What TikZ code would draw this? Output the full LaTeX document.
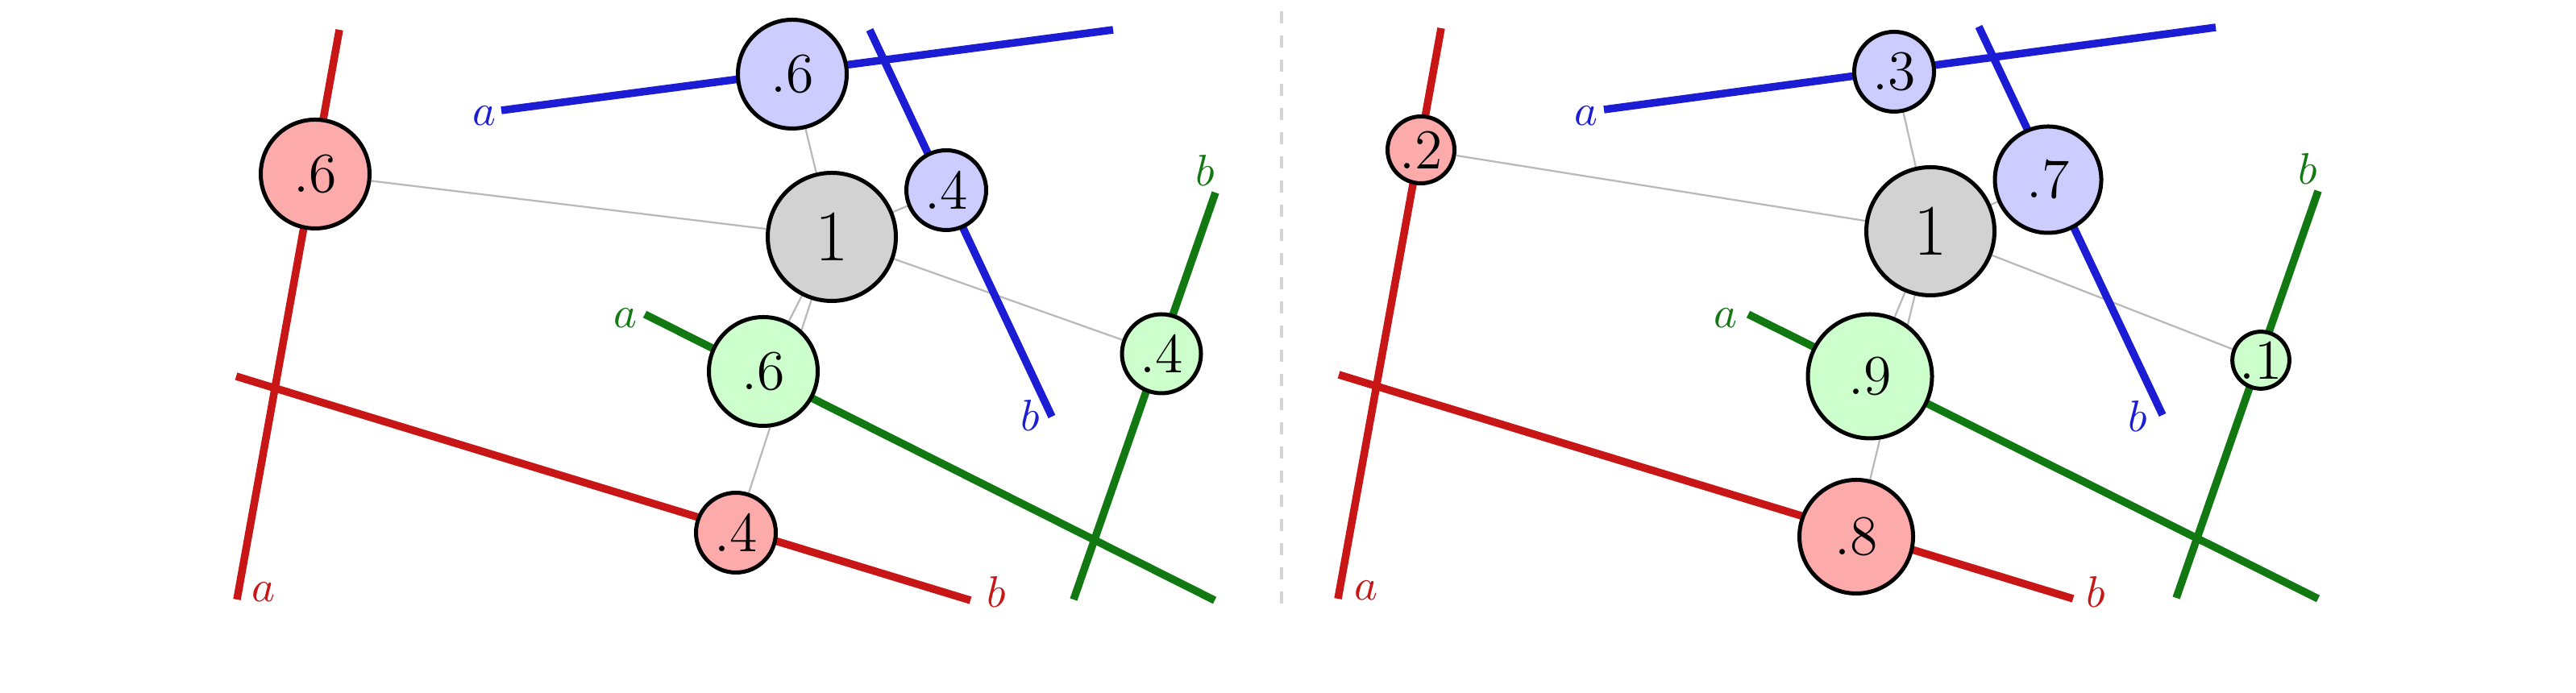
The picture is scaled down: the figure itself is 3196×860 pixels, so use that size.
\documentclass[tikz,border=0pt]{standalone}
\usepackage{amsmath}
\usepackage{amssymb}
\usetikzlibrary{backgrounds}

\definecolor{redline}{RGB}{200,22,22}
\definecolor{blueline}{RGB}{28,28,212}
\definecolor{greenline}{RGB}{18,120,18}
\definecolor{redfill}{RGB}{252,170,170}
\definecolor{bluefill}{RGB}{204,204,255}
\definecolor{greenfill}{RGB}{204,255,204}
\definecolor{onefill}{RGB}{210,210,210}
\definecolor{linkgray}{RGB}{185,185,185}
\definecolor{sepgray}{RGB}{212,212,212}

\begin{document}
\begin{tikzpicture}[x=0.2pt,y=-0.2pt,
  main node/.style={circle,draw,line width=1pt,inner sep=0pt,font=\fontsize{14}{16}\selectfont},
  one node/.style={main node,fill=onefill,minimum size=31.8pt,font=\fontsize{18}{21}\selectfont},
  red node/.style={main node,fill=redfill},
  blue node/.style={main node,fill=bluefill},
  green node/.style={main node,fill=greenfill},
  part line/.style={line width=1.9pt},
  tie/.style={draw=linkgray,line width=0.45pt},
  end label/.style={inner sep=0pt,font=\fontsize{10.5}{12}\selectfont}]
  \useasboundingbox (0,0) rectangle (3196,860);

  % left
  \coordinate (r1a) at (294,744);
  \coordinate (r1b) at (421,37);
  \coordinate (r2a) at (293,467);
  \coordinate (r2b) at (1204,745);
  \coordinate (b1a) at (622,137);
  \coordinate (b1b) at (1381,37);
  \coordinate (b2a) at (1079,37);
  \coordinate (b2b) at (1305,517);
  \coordinate (g1a) at (800,390);
  \coordinate (g1b) at (1507,745);
  \coordinate (g2a) at (1332,744);
  \coordinate (g2b) at (1508,239);

  \node[one node] (n0) at (1032,294) {1};
  \node[red node,minimum size=27pt] (n1) at (391,216) {.6};
  \node[red node,minimum size=19.8pt] (n2) at (913,661) {.4};
  \node[blue node,minimum size=27pt] (n3) at (983,92) {.6};
  \node[blue node,minimum size=19.8pt] (n4) at (1174,236) {.4};
  \node[green node,minimum size=27pt] (n5) at (947,461) {.6};
  \node[green node,minimum size=19.6pt] (n6) at (1441,439) {.4};

  \node[end label,text=redline] (la1) at (327,735) {$a$};
  \node[end label,text=redline] (la2) at (1236,735) {$b$};
  \node[end label,text=blueline] (la3) at (601,144) {$a$};
  \node[end label,text=blueline] (la4) at (1278,516) {$b$};
  \node[end label,text=greenline] (la5) at (776,395) {$a$};
  \node[end label,text=greenline] (la6) at (1495,212) {$b$};

  % right
  \coordinate (s1a) at (1660,743);
  \coordinate (s1b) at (1788,35);
  \coordinate (s2a) at (1661,465);
  \coordinate (s2b) at (2572,743);
  \coordinate (c1a) at (1990,136);
  \coordinate (c1b) at (2749,34);
  \coordinate (c2a) at (2455,33);
  \coordinate (c2b) at (2683,515);
  \coordinate (h1a) at (2169,390);
  \coordinate (h1b) at (2876,743);
  \coordinate (h2a) at (2700,742);
  \coordinate (h2b) at (2876,237);

  \node[one node] (m0) at (2395,287) {1};
  \node[red node,minimum size=16.6pt] (m1) at (1763,186) {.2};
  \node[red node,minimum size=28.2pt] (m2) at (2303,666) {.8};
  \node[blue node,minimum size=19.8pt] (m3) at (2350,89) {.3};
  \node[blue node,minimum size=26.4pt] (m4) at (2541,223) {.7};
  \node[green node,minimum size=30.8pt] (m5) at (2320,467) {.9};
  \node[green node,minimum size=13.8pt] (m6) at (2805,447) {.1};

  \node[end label,text=redline] (ma1) at (1695,733) {$a$};
  \node[end label,text=redline] (ma2) at (2600,735) {$b$};
  \node[end label,text=blueline] (ma3) at (1968,144) {$a$};
  \node[end label,text=blueline] (ma4) at (2652,517) {$b$};
  \node[end label,text=greenline] (ma5) at (2141,395) {$a$};
  \node[end label,text=greenline] (ma6) at (2863,210) {$b$};

  \begin{scope}[on background layer]
  \path[]
  (n0) [tie] edge (n1)
  (n0) [tie] edge (n2)
  (n0) [tie] edge (n3)
  (n0) [tie] edge (n4)
  (n0) [tie] edge (n5)
  (n0) [tie] edge (n6)
  (m0) [tie] edge (m1)
  (m0) [tie] edge (m2)
  (m0) [tie] edge (m3)
  (m0) [tie] edge (m4)
  (m0) [tie] edge (m5)
  (m0) [tie] edge (m6);
  \draw[part line,redline] (r1a) -- (r1b) (r2a) -- (r2b) (s1a) -- (s1b) (s2a) -- (s2b);
  \draw[part line,blueline] (b1a) -- (b1b) (b2a) -- (b2b) (c1a) -- (c1b) (c2a) -- (c2b);
  \draw[part line,greenline] (g1a) -- (g1b) (g2a) -- (g2b) (h1a) -- (h1b) (h2a) -- (h2b);
  \end{scope}

  \coordinate (sep1) at (1590,14);
  \coordinate (sep2) at (1590,760);
  \draw[sepgray,line width=0.9pt,dashed] (sep1) -- (sep2);
\end{tikzpicture}
\end{document}
